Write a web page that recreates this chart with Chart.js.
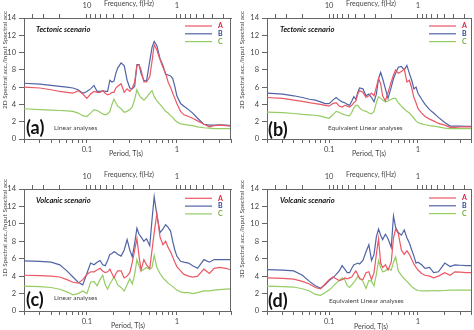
<!DOCTYPE html>
<html>
<head>
<meta charset="utf-8">
<script src="https://cdn.jsdelivr.net/npm/chart.js@4.4.1/dist/chart.umd.min.js"></script>
<style>
html, body { margin: 0; padding: 0; background: #fff; }
#fig { position: relative; width: 474px; height: 330px; }
#fig canvas { position: absolute; }
</style>
</head>
<body>
<div id="fig">
  <canvas id="pa" width="237" height="165" style="left:0;top:0"></canvas>
  <canvas id="pb" width="237" height="165" style="left:237px;top:0"></canvas>
  <canvas id="pc" width="237" height="165" style="left:0;top:165px"></canvas>
  <canvas id="pd" width="237" height="165" style="left:237px;top:165px"></canvas>
</div>
<script>
// periodo (s) comum a todas as curvas
const periods = [0.02, 0.03, 0.04, 0.05, 0.06, 0.07, 0.08, 0.09, 0.1,
  0.11, 0.12, 0.13, 0.14, 0.15, 0.16, 0.17, 0.18, 0.19, 0.2, 0.21, 0.22,
  0.24, 0.26, 0.28, 0.3, 0.32, 0.34, 0.36, 0.38, 0.4,
  0.43, 0.46, 0.5, 0.53, 0.56, 0.6, 0.65, 0.7, 0.75, 0.8, 0.85, 0.9, 0.95, 1.0,
  1.1, 1.2, 1.35, 1.5, 1.7, 2.0, 2.3, 2.6, 3.0, 3.5, 4.0];

const periodTicks = [0.02, 0.03, 0.04, 0.05, 0.06, 0.07, 0.08, 0.09, 0.1, 0.2, 0.3, 0.4, 0.5, 0.6, 0.7, 0.8, 0.9, 1, 2, 3, 4];
const periodLabels = [0.1, 1];
const freqTicks = [0.3, 0.4, 0.5, 0.6, 0.7, 0.8, 0.9, 1, 2, 3, 4, 5, 6, 7, 8, 9, 10, 20, 30, 40];
const freqLabels = [10, 1];

const seriesNames = ['A', 'B', 'C'];

// (a) tectonic - linear
const tecLinA = [6.0, 5.9, 5.7, 5.5, 5.4, 5.3, 5.6, 5.2, 4.7,
  5.2, 5.5, 5.4, 5.4, 5.6, 5.3, 5.1, 5.2, 5.4, 5.4, 5.9, 6.1,
  6.4, 5.4, 5.8, 5.5, 5.9, 6.6, 8.5, 8.6, 8.0,
  6.6, 6.6, 7.2, 9.0, 10.9, 10.3, 9.2, 8.3, 7.6, 6.6, 6.0, 5.3, 4.7, 4.1,
  3.2, 2.8, 2.6, 2.4, 2.1, 1.7, 1.4, 1.55, 1.6, 1.55, 1.5];
const tecLinB = [6.45, 6.35, 6.2, 6.1, 6.0, 5.9, 5.7, 5.3, 5.5,
  5.8, 6.2, 5.5, 5.5, 5.6, 5.5, 5.5, 6.8, 6.6, 6.7, 7.6, 8.2,
  8.8, 8.5, 6.8, 5.9, 5.8, 6.1, 8.6, 8.6, 7.6,
  6.8, 6.7, 9.0, 10.6, 11.3, 10.8, 9.3, 8.5, 7.5, 7.4, 7.3, 7.0, 6.1, 5.0,
  4.1, 3.8, 3.4, 3.0, 2.4, 1.7, 1.6, 1.6, 1.65, 1.6, 1.55];
const tecLinC = [3.5, 3.4, 3.35, 3.3, 3.25, 3.2, 3.0, 2.7, 2.6,
  3.0, 3.4, 3.3, 3.1, 2.9, 2.8, 2.9, 3.2, 4.0, 4.6, 4.2, 3.8,
  3.5, 3.1, 3.2, 3.4, 3.7, 4.6, 5.7, 5.1, 4.8,
  4.5, 4.8, 5.3, 5.6, 4.9, 4.4, 4.0, 3.6, 3.2, 3.0, 2.7, 2.5, 2.2, 2.0,
  1.75, 1.7, 1.6, 1.55, 1.4, 1.3, 1.25, 1.2, 1.2, 1.2, 1.2];

// (b) tectonic - equivalent linear
const tecEqA = [4.8, 4.7, 4.5, 4.35, 4.2, 4.1, 4.0, 3.9, 3.8,
  4.1, 4.2, 3.8, 3.7, 3.9, 3.8, 3.7, 3.9, 4.2, 4.4, 5.2, 5.6,
  5.4, 4.8, 5.0, 5.3, 5.0, 6.0, 7.0, 6.4, 5.0,
  4.4, 5.4, 6.6, 7.4, 8.0, 7.6, 7.8, 8.1, 6.6, 6.8, 5.9, 4.8, 4.2, 3.5,
  3.0, 2.6, 2.3, 2.1, 1.8, 1.6, 1.35, 1.35, 1.4, 1.4, 1.4];
const tecEqB = [5.3, 5.2, 5.0, 4.8, 4.6, 4.5, 4.3, 4.1, 4.1,
  4.5, 4.8, 4.5, 4.3, 4.2, 4.0, 3.9, 4.4, 4.9, 4.6, 5.4, 5.9,
  5.8, 5.0, 5.2, 4.8, 4.3, 5.2, 7.0, 7.7, 7.0,
  5.8, 4.7, 6.0, 7.0, 7.6, 8.3, 8.4, 8.0, 8.5, 7.6, 6.8, 5.8, 6.0, 5.3,
  4.6, 4.0, 3.4, 3.0, 2.5, 1.9, 1.5, 1.5, 1.5, 1.45, 1.45];
const tecEqC = [3.1, 3.05, 2.95, 2.85, 2.8, 2.75, 2.65, 2.5, 2.4,
  2.8, 3.2, 3.1, 2.9, 2.8, 2.7, 2.7, 3.1, 3.6, 3.9, 3.9, 3.6,
  3.3, 3.2, 3.0, 2.9, 3.2, 4.2, 4.9, 4.7, 4.5,
  4.3, 4.4, 4.6, 4.7, 4.7, 4.2, 3.8, 3.5, 3.2, 3.0, 2.7, 2.4, 2.1, 1.9,
  1.75, 1.65, 1.55, 1.5, 1.4, 1.25, 1.2, 1.2, 1.2, 1.2, 1.2];

// (c) volcanic - linear
const volLinA = [4.1, 4.05, 4.0, 3.9, 3.6, 3.3, 3.2, 3.6, 4.2,
  4.5, 4.5, 4.7, 4.9, 4.6, 4.4, 4.5, 4.8, 4.3, 3.8, 4.3, 4.6,
  4.6, 3.8, 4.0, 4.4, 5.6, 7.0, 8.3, 6.3, 4.7,
  5.9, 5.3, 4.9, 7.0, 9.0, 11.2, 8.5, 7.6, 8.0, 7.3, 6.8, 6.2, 5.6, 5.1,
  4.6, 4.2, 4.0, 3.9, 4.0, 4.8, 4.3, 4.9, 5.0, 4.9, 4.7];
const volLinB = [5.75, 5.7, 5.6, 5.3, 4.6, 3.9, 3.3, 3.0, 4.3,
  5.5, 5.3, 5.6, 5.8, 5.3, 5.2, 5.8, 6.5, 6.6, 6.8, 6.7, 6.5,
  6.3, 7.0, 8.2, 7.0, 6.2, 7.8, 9.5, 8.8, 8.5,
  8.0, 8.3, 7.5, 10.5, 13.1, 11.0, 9.0, 9.4, 9.9, 9.6, 9.2, 8.0, 7.0, 6.3,
  5.7, 5.6, 5.5, 5.2, 4.9, 5.9, 5.6, 5.9, 5.9, 5.9, 5.9];
const volLinC = [2.85, 2.8, 2.7, 2.5, 2.2, 1.85, 2.0, 2.3, 2.0,
  3.3, 3.4, 2.9, 3.6, 4.1, 3.0, 2.5, 3.1, 3.5, 3.9, 3.5, 3.0,
  2.7, 2.3, 3.0, 3.7, 3.1, 4.2, 5.9, 5.2, 4.6,
  4.8, 5.0, 4.8, 5.0, 6.4, 5.0, 4.3, 3.8, 3.5, 3.2, 3.0, 2.8, 2.6, 2.4,
  2.2, 2.1, 2.1, 2.0, 2.1, 2.3, 2.3, 2.4, 2.45, 2.5, 2.55];

// (d) volcanic - equivalent linear
const volEqA = [3.8, 3.75, 3.65, 3.4, 3.1, 2.7, 2.55, 3.1, 3.6,
  3.9, 3.7, 3.5, 3.6, 3.8, 3.7, 3.8, 3.9, 4.3, 4.6, 4.2, 3.7,
  3.6, 4.4, 4.5, 3.6, 4.4, 6.5, 8.3, 5.5, 5.0,
  5.3, 4.7, 5.6, 8.4, 9.4, 8.9, 7.0, 6.5, 6.9, 6.5, 5.9, 5.4, 5.0, 4.7,
  4.3, 4.1, 4.0, 3.8, 4.0, 4.4, 4.1, 4.5, 4.45, 4.4, 4.4];
const volEqB = [4.75, 4.7, 4.6, 4.1, 3.4, 2.9, 2.6, 3.0, 3.5,
  3.8, 4.2, 4.6, 5.2, 4.8, 4.4, 4.4, 4.9, 5.3, 5.4, 5.5, 5.4,
  5.8, 6.8, 7.6, 5.8, 6.5, 8.5, 9.4, 8.7, 8.2,
  8.8, 8.3, 7.3, 10.9, 9.6, 9.0, 8.7, 9.3, 8.4, 7.8, 7.0, 6.3, 5.5, 5.6,
  5.3, 4.9, 5.0, 4.4, 4.5, 5.5, 5.1, 5.3, 5.25, 5.2, 5.2];
const volEqC = [2.85, 2.8, 2.75, 2.55, 2.3, 1.9, 1.8, 2.1, 2.4,
  2.8, 3.2, 3.5, 3.8, 3.6, 2.9, 2.7, 3.0, 3.3, 3.6, 4.0, 3.8,
  3.4, 2.6, 3.5, 3.4, 2.9, 4.2, 5.8, 5.0, 4.5,
  4.6, 4.9, 4.7, 5.6, 6.2, 4.6, 4.1, 3.7, 3.4, 3.1, 2.8, 2.6, 2.45, 2.35,
  2.3, 2.3, 2.3, 2.35, 2.3, 2.35, 2.4, 2.4, 2.4, 2.4, 2.4];

const lineColors = ['#ea5866', '#5064a6', '#95cc64'];
const legendColors = ['#e0203a', '#2a4595', '#76ad3c'];
const axisColor = '#666';
const textColor = '#444';
const fontFamily = 'Lato, "Open Sans", sans-serif';

const panels = [
  { id: 'pa', values: [tecLinA, tecLinB, tecLinC], scenario: 'Tectonic scenario', letter: '(a)',
    analysis: 'Linear analyses', yTitle: '2D Spectral acc./Input Spectral acc',
    leftW: 24, padRight: 6, topH: 18, bottomH: 26,
    pos: { scen: [36, 30], letter: [26, 128], anal: [54, 127.6], legX: 185, legY: 26,
           freq: [129, 4], period: [126, 154], yT: [4.5, 60] } },
  { id: 'pb', values: [tecEqA, tecEqB, tecEqC], scenario: 'Tectonic scenario', letter: '(b)',
    analysis: 'Equivalent Linear analyses', yTitle: '2D Spectral acc./Input Spectral acc',
    leftW: 30, padRight: 1, topH: 18, bottomH: 26,
    pos: { scen: [43, 30], letter: [31, 130.5], anal: [91, 128], legX: 192, legY: 26,
           freq: [134, 4], period: [132, 154], yT: [5, 60] } },
  { id: 'pc', values: [volLinA, volLinB, volLinC], scenario: 'Volcanic scenario', letter: '(c)',
    analysis: 'Linear analyses', yTitle: '1D Spectral acc./Input Spectral acc',
    leftW: 24, padRight: 6, topH: 24, bottomH: 19,
    pos: { scen: [36, 36], letter: [26, 135], anal: [54, 133.3], legX: 185, legY: 33.3,
           freq: [129, 9.3], period: [128, 160.7], yT: [4.5, 63] } },
  { id: 'pd', values: [volEqA, volEqB, volEqC], scenario: 'Volcanic scenario', letter: '(d)',
    analysis: 'Equivalent Linear analyses', yTitle: '3D Spectral acc./Input Spectral acc',
    leftW: 30, padRight: 2, topH: 24, bottomH: 19,
    pos: { scen: [43, 36], letter: [31, 136], anal: [92, 136], legX: 192, legY: 33,
           freq: [134, 9.3], period: [134, 161.5], yT: [5, 64] } }
];

function decor(p) {
  return {
    id: 'decor',
    afterDraw(chart) {
      const { ctx, chartArea: a } = chart;
      const q = p.pos;
      ctx.save();
      // moldura do lado direito
      ctx.strokeStyle = axisColor;
      ctx.lineWidth = 1;
      ctx.beginPath();
      ctx.moveTo(Math.round(a.right) - 0.5, a.top);
      ctx.lineTo(Math.round(a.right) - 0.5, a.bottom);
      ctx.stroke();

      ctx.textBaseline = 'middle';
      ctx.fillStyle = '#111';
      ctx.textAlign = 'left';
      ctx.font = 'bold italic 7.5px ' + fontFamily;
      ctx.fillText(p.scenario, q.scen[0], q.scen[1]);
      ctx.font = 'bold 18px ' + fontFamily;
      ctx.fillText(p.letter, q.letter[0], q.letter[1]);
      ctx.fillStyle = textColor;
      ctx.font = '6.5px ' + fontFamily;
      ctx.fillText(p.analysis, q.anal[0], q.anal[1]);

      // legenda
      seriesNames.forEach((name, i) => {
        const y = q.legY + i * 7.8;
        ctx.strokeStyle = lineColors[i];
        ctx.lineWidth = 1.2;
        ctx.beginPath();
        ctx.moveTo(q.legX, y);
        ctx.lineTo(q.legX + 27, y);
        ctx.stroke();
        ctx.fillStyle = legendColors[i];
        ctx.font = 'bold 7px ' + fontFamily;
        ctx.fillText(name, q.legX + 33, y);
      });

      // titulos dos eixos
      ctx.fillStyle = textColor;
      ctx.textAlign = 'center';
      ctx.font = '7px ' + fontFamily;
      ctx.fillText('Frequency, f(Hz)', q.freq[0], q.freq[1]);
      ctx.fillText('Period, T(s)', q.period[0], q.period[1]);
      ctx.translate(q.yT[0], q.yT[1]);
      ctx.rotate(-Math.PI / 2);
      ctx.font = '6.4px ' + fontFamily;
      ctx.fillText(p.yTitle, 0, 0);
      ctx.restore();
    }
  };
}

function tickFont() {
  return { family: fontFamily, size: 7.5 };
}

function makeChart(p) {
  const datasets = seriesNames.map((name, i) => ({
    label: name,
    data: periods.map((t, k) => ({ x: t, y: p.values[i][k] })),
    borderColor: lineColors[i],
    borderWidth: 1.2,
    pointRadius: 0,
    tension: 0,
    fill: false
  }));

  return new Chart(document.getElementById(p.id), {
    type: 'line',
    data: { datasets },
    options: {
      responsive: false,
      animation: false,
      layout: { padding: { left: 0, right: p.padRight, top: 0, bottom: 0 } },
      plugins: { legend: { display: false }, tooltip: { enabled: false } },
      scales: {
        x: {
          type: 'logarithmic', position: 'bottom', min: 0.02, max: 4,
          afterBuildTicks: s => { s.ticks = periodTicks.map(v => ({ value: v })); },
          afterFit: s => { s.height = p.bottomH; },
          grid: { drawOnChartArea: false, tickLength: 4, color: axisColor },
          border: { color: axisColor },
          ticks: {
            autoSkip: false, maxRotation: 0, padding: 2.5, color: textColor, font: tickFont(),
            callback: v => periodLabels.includes(v) ? String(v) : ''
          }
        },
        x2: {
          type: 'logarithmic', position: 'top', reverse: true, min: 0.25, max: 50,
          afterBuildTicks: s => { s.ticks = freqTicks.map(v => ({ value: v })); },
          afterFit: s => { s.height = p.topH; },
          grid: { drawOnChartArea: false, tickLength: 4, color: axisColor },
          border: { color: axisColor },
          ticks: {
            autoSkip: false, maxRotation: 0, padding: 3.5, color: textColor, font: tickFont(),
            callback: v => freqLabels.includes(v) ? String(v) : ''
          }
        },
        y: {
          min: 0, max: 14,
          afterFit: s => { s.width = p.leftW; },
          grid: { drawOnChartArea: false, tickLength: 5, color: axisColor },
          border: { color: axisColor },
          ticks: { stepSize: 2, padding: 3, color: textColor, font: tickFont() }
        }
      }
    },
    plugins: [decor(p)]
  });
}

document.addEventListener('DOMContentLoaded', () => {
  panels.forEach(makeChart);
});
</script>
</body>
</html>
